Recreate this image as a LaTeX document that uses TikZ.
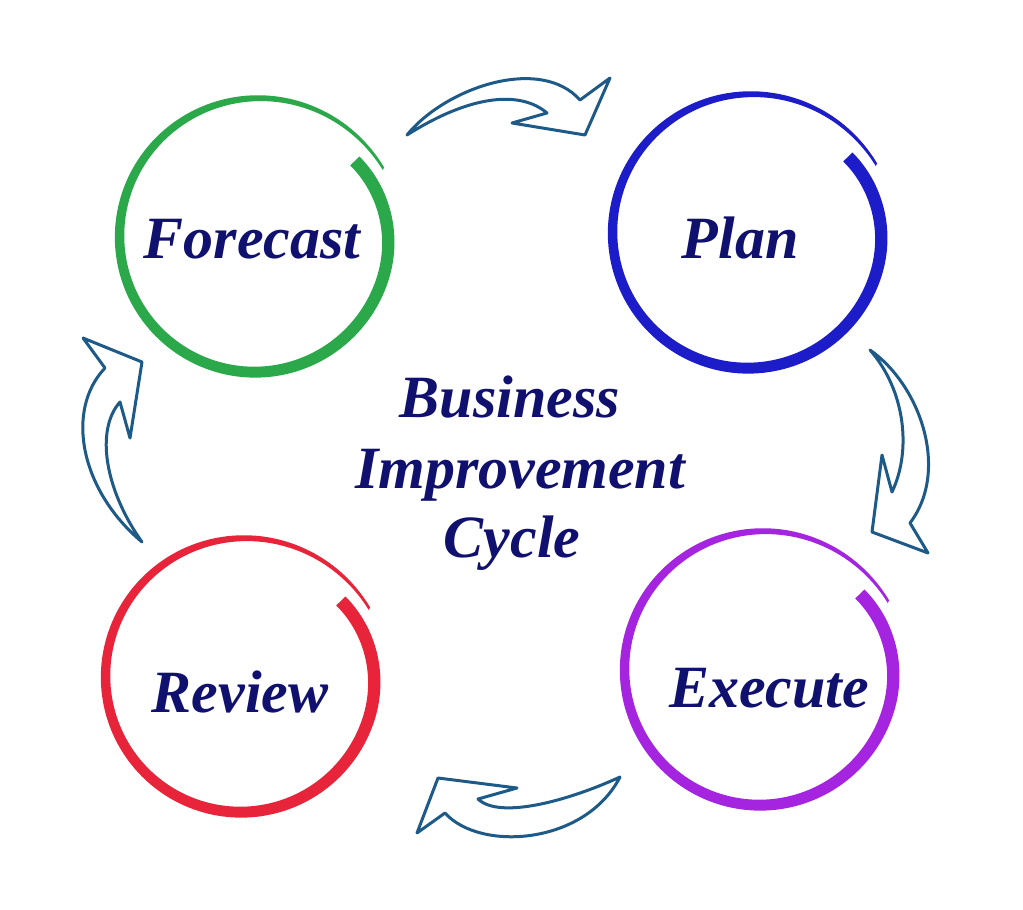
\documentclass[tikz,border=0pt]{standalone}
\usepackage{fontspec}
\setmainfont{Liberation Serif}
\definecolor{ringgreen}{HTML}{2AA84A}
\definecolor{ringblue}{HTML}{1C1CC8}
\definecolor{ringred}{HTML}{E8243A}
\definecolor{ringpurple}{HTML}{A424E0}
\definecolor{navytext}{HTML}{10106E}
\definecolor{arrowblue}{HTML}{1E5A88}
\newcommand\brushring[3]{%
 \fill[#1] plot[domain=0:1,samples=150,variable=\t,smooth]
   ({#2+(ringr(\t)+ringw(\t)/2)*cos(ringa(\t))},{#3+(ringr(\t)+ringw(\t)/2)*sin(ringa(\t))})
   -- plot[domain=1:0,samples=150,variable=\t,smooth]
   ({#2+(ringr(\t)-ringw(\t)/2)*cos(ringa(\t))},{#3+(ringr(\t)-ringw(\t)/2)*sin(ringa(\t))}) -- cycle;}
\begin{document}
\begin{tikzpicture}[x=1pt,y=-1pt,
  lbl/.style={text=navytext, font=\fontsize{60}{72}\selectfont\bfseries\itshape, inner sep=0pt, anchor=base},
  blockarrow/.style={draw=arrowblue, line width=3pt, fill=white, line join=round},
  declare function={ringa(\t)=-38+370*\t;
    ringw(\t)=13-3*min(\t,0.5)/0.5-7.5*(max(0,(\t-0.5)/0.5))^1.5;
    ringr(\t)=134-8*(max(0,1-\t/0.15))^2+12*\t^4;}]
\useasboundingbox[fill=white] (0,0) rectangle (1023,910);
% rings
\brushring{ringgreen}{255}{238}
\brushring{ringblue}{748}{234}
\brushring{ringred}{241}{678}
\brushring{ringpurple}{760}{671}
% labels
\node[lbl] (forecast) at (252,258) {Forecast};
\node[lbl] (plan) at (740,258) {Plan};
\node[lbl] (review) at (240,712) {Review};
\node[lbl] (execute) at (769,707) {Execute};
\node[lbl] (business) at (510,417) {Business};
\node[lbl] (improvement) at (520,488) {Improvement};
\node[lbl] (cycle) at (512,557) {Cycle};
% block arrows
\draw[blockarrow] (407,135) .. controls (445,88) and (540,55) .. (580,100) -- (610,78) -- (585,135) -- (512,123) -- (547,113) .. controls (520,90) and (470,95) .. (407,135) -- cycle;
\draw[blockarrow] (870,350) .. controls (920,385) and (950,470) .. (910,523) -- (928,553) -- (872,532) -- (882,455) -- (892,492) .. controls (912,450) and (905,390) .. (870,350) -- cycle;
\draw[blockarrow] (620,777) .. controls (570,800) and (500,820) .. (478,799) -- (517,788) -- (438,778) -- (417,833) -- (445,813) .. controls (480,852) and (585,845) .. (620,777) -- cycle;
\draw[blockarrow] (142,542) .. controls (80,490) and (65,410) .. (105,368) -- (83,338) -- (142,362) -- (130,438) -- (120,402) .. controls (95,430) and (105,490) .. (142,542) -- cycle;
\end{tikzpicture}
\end{document}
